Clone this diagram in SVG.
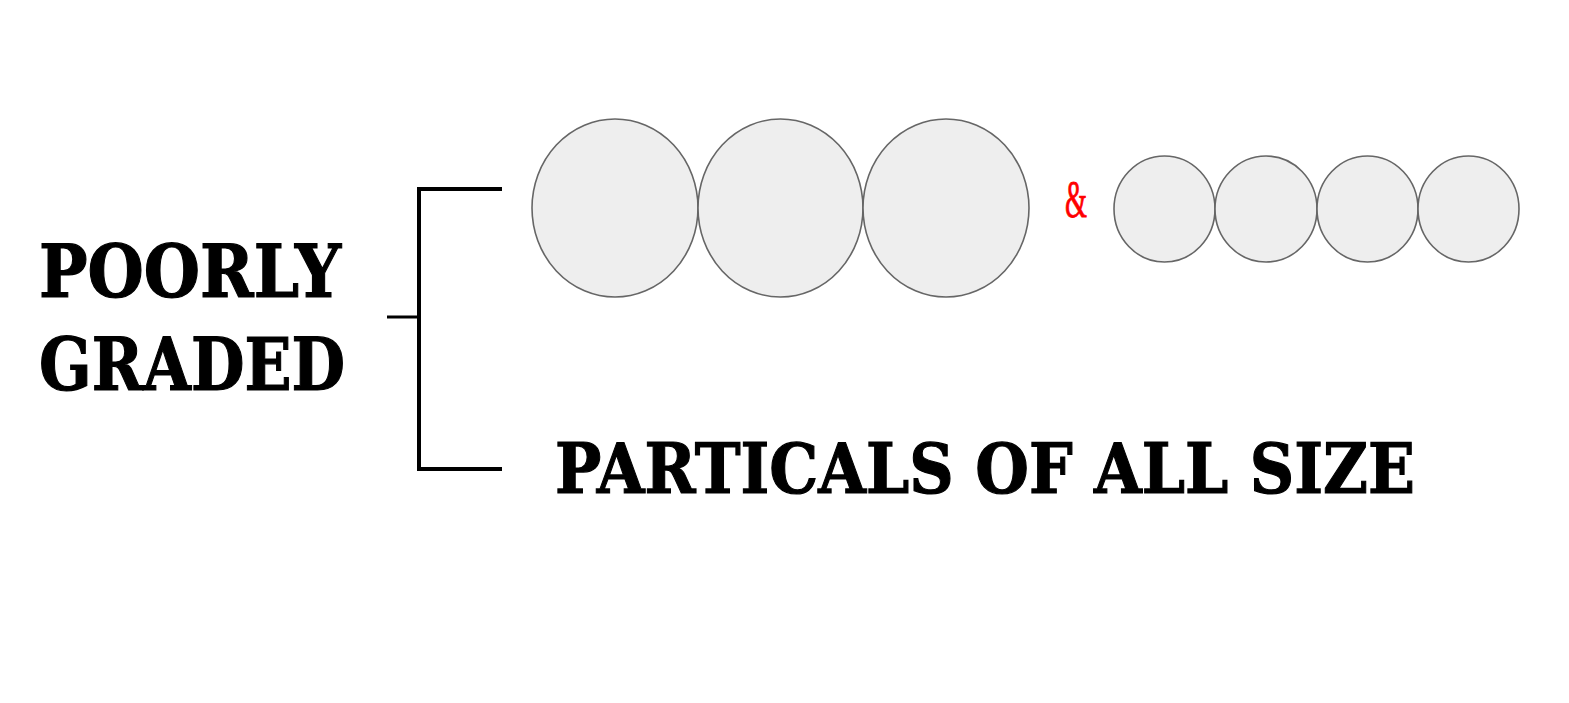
<svg xmlns="http://www.w3.org/2000/svg" width="1569" height="703" viewBox="0 0 1569 703">
<style>
.lbl{font-family:"DejaVu Serif","Liberation Serif",serif;font-weight:bold;fill:#000;stroke:#000;stroke-width:1.2}
.p{fill:#eeeeee;stroke:#666666;stroke-width:1.6}
.br{stroke:#000;stroke-width:4;fill:none}
</style>
<rect width="1569" height="703" fill="#ffffff"/>
<g id="label-poorly-graded">
<text class="lbl" x="39" y="297" font-size="73" textLength="302" lengthAdjust="spacingAndGlyphs">POORLY</text>
<text class="lbl" x="39" y="390" font-size="73" textLength="306" lengthAdjust="spacingAndGlyphs">GRADED</text>
</g>
<g id="connectors">
<path class="br" d="M502 189 H419 V469 H502"/>
<line x1="387" y1="317" x2="421" y2="317" stroke="#000" stroke-width="3"/>
</g>
<g id="large-particles">
<ellipse class="p" cx="615" cy="208" rx="83" ry="89"/>
<ellipse class="p" cx="780.5" cy="208" rx="82.5" ry="89"/>
<ellipse class="p" cx="946" cy="208" rx="83" ry="89"/>
</g>
<g id="ampersand">
<text x="1065" y="217" font-family="Liberation Serif,serif" font-size="52" fill="#ff0000" stroke="#ff0000" stroke-width="0.8" textLength="22" lengthAdjust="spacingAndGlyphs">&amp;</text>
</g>
<g id="small-particles">
<ellipse class="p" cx="1164.5" cy="209" rx="50.5" ry="53"/>
<ellipse class="p" cx="1266" cy="209" rx="51" ry="53"/>
<ellipse class="p" cx="1367.5" cy="209" rx="50.5" ry="53"/>
<ellipse class="p" cx="1468.5" cy="209" rx="50.5" ry="53"/>
</g>
<g id="label-all-sizes">
<text class="lbl" x="555" y="493" font-size="70" textLength="860" lengthAdjust="spacingAndGlyphs">PARTICALS OF ALL SIZE</text>
</g>
</svg>
